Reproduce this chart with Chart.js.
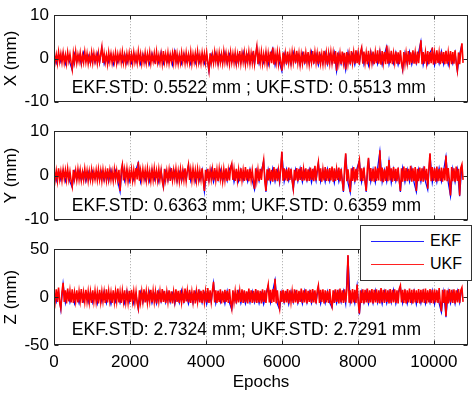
<!DOCTYPE html>
<html><head><meta charset="utf-8">
<script src="https://cdn.jsdelivr.net/npm/chart.js@4.4.0/dist/chart.umd.min.js"></script>
<style>
html,body{margin:0;padding:0;background:#fff;}
#wrap{position:relative;width:474px;height:393px;overflow:hidden;font-family:"Liberation Sans",Arial,sans-serif;}
canvas{position:absolute;left:0;}
#legend{position:absolute;left:360px;top:225px;width:110px;height:54px;border:1px solid #333;background:#fff;z-index:5;}
.li{position:absolute;left:0;width:110px;height:20px;}
.li .ln{position:absolute;left:10px;width:53px;top:10px;height:0;border-top:1px solid;}
.li .tx{position:absolute;left:69px;top:0;font-size:16px;line-height:20px;color:#000;}
</style></head><body>
<div id="wrap">
<canvas id="c1" width="474" height="117" style="top:0;width:474px;height:117px"></canvas>
<canvas id="c2" width="474" height="119" style="top:116px;width:474px;height:119px"></canvas>
<canvas id="c3" width="474" height="159" style="top:234px;width:474px;height:159px"></canvas>
<div id="legend">
  <div class="li" style="top:5px"><span class="ln" style="border-color:#2020ff"></span><span class="tx">EKF</span></div>
  <div class="li" style="top:28px"><span class="ln" style="border-color:#ff2020"></span><span class="tx">UKF</span></div>
</div>
</div>
<script>
// ---- data ----
const ukfStep = 30;            // epochs between plotted UKF samples
const ekfStep = 60;            // epochs between plotted EKF samples
const xMax = 10900;
const xTicks = [0, 2000, 4000, 6000, 8000, 10000];
const yTicksXY = [-10, 0, 10];
const yTicksZ = [-50, 0, 50];
const seriesNames = ['EKF', 'UKF'];

const xUKF = [
 1.2,-0.8,0.9,-1.1,1.5,-0.7,1.1,-0.9,1.3,-1.0,0.8,-1.2,1.4,-0.6,1.0,-0.9,-2.5,1.2,-0.8,1.6,
 -1.0,0.9,-0.7,1.3,-1.1,0.8,-0.9,1.5,-0.8,1.1,-1.2,0.7,-0.9,1.4,-1.0,1.2,-0.7,0.9,-1.1,1.3,
 -0.8,1.0,2.7,-1.0,1.2,-0.9,0.8,-1.3,1.4,-0.7,1.1,-1.0,0.9,-0.8,1.3,-1.1,1.0,-0.6,1.2,-0.9,
 1.5,-1.0,0.8,-1.2,1.1,-0.7,1.3,-0.9,1.0,-1.1,1.4,-0.8,0.9,-1.0,1.6,-0.7,1.1,-1.2,0.8,-0.9,
 1.3,-1.0,1.0,-0.8,1.4,-1.1,0.9,-0.7,1.2,-1.3,1.5,-0.9,0.8,-1.0,1.1,-1.2,1.7,-0.8,1.0,-0.9,
 1.3,-1.1,0.9,-0.7,1.2,-1.0,2.0,-0.9,1.1,-1.2,0.8,-1.0,1.4,-0.8,1.0,-1.1,1.3,-0.9,0.9,-1.0,
 1.5,-1.2,1.0,-0.8,1.2,-1.0,1.6,-0.9,0.9,-1.1,1.3,-0.8,1.1,-1.0,1.4,-0.9,-2.8,1.2,-1.1,0.9,
 -1.0,1.5,-0.8,1.1,-1.2,1.3,-0.9,1.0,-1.1,1.6,-0.8,1.2,-1.0,0.9,-1.3,1.4,-0.9,1.1,-1.0,1.3,
 -1.2,1.0,-0.9,1.7,-1.1,1.2,-0.8,1.4,-1.3,1.0,-0.9,1.5,-1.1,1.2,-1.0,1.8,-1.2,1.1,2.8,-1.3,
 1.3,-1.0,1.5,-1.2,1.0,-0.9,1.4,-1.3,1.2,-1.0,1.6,-1.1,2.5,-1.4,1.1,-1.0,1.5,-1.2,1.3,-0.9,
 -2.8,1.4,-1.1,1.2,-1.3,1.6,-1.0,1.1,-1.2,1.5,-0.9,1.3,-1.1,1.8,-1.0,1.2,-1.4,1.0,-1.1,1.6,
 -1.2,1.3,-1.0,1.5,-1.3,1.1,-0.9,1.7,-1.2,1.4,-1.0,1.2,-1.3,1.6,-1.1,1.0,-1.2,1.8,-1.0,1.3,
 -1.4,1.2,-1.1,1.5,-1.0,1.3,-1.2,1.7,-2.8,1.4,-1.1,1.2,-1.3,1.6,-1.0,1.3,-2.5,1.5,-1.2,1.1,
 -1.3,1.7,-1.0,1.4,-1.2,1.9,-1.1,1.3,-1.4,1.5,2.5,-1.2,1.6,-1.0,1.3,-1.3,1.8,-1.1,1.2,-1.0,
 1.6,-1.3,1.4,-1.1,1.9,-1.2,1.3,-1.4,1.7,-1.0,1.5,-1.3,3.0,-1.2,1.4,-1.1,1.8,-1.3,1.2,-1.0,
 1.6,-1.2,1.4,-1.3,1.9,-1.1,-2.5,1.5,-1.2,1.3,-1.0,1.7,-1.4,1.4,-1.1,1.9,-1.2,1.3,-1.3,1.6,
 -1.1,1.8,4.2,-1.3,1.5,-1.2,1.4,-1.0,1.7,-1.3,1.5,-1.1,2.5,-1.4,1.3,-1.2,1.9,-1.0,1.4,-1.3,
 1.6,-1.1,1.5,-1.3,1.8,-1.2,1.4,-1.0,1.7,-1.3,1.5,-1.2,1.9,-1.1,-2.8,1.4,-1.3,1.6,3.5,-1.0
];
const xEKF = [
 0.6,-1.1,1.0,-0.8,1.3,-1.3,0.5,-1.0,-2.7,1.1,-0.9,0.8,-1.4,1.4,-0.7,0.7,-1.2,0.9,-1.0,1.2,
 -1.1,2.5,-1.3,0.6,-0.9,1.0,-1.5,0.4,-1.0,0.8,-0.8,1.1,-1.2,0.5,-1.1,1.3,-0.9,0.7,-1.3,1.0,
 -1.0,0.4,-1.4,1.2,-0.8,0.8,-1.1,1.5,-1.2,0.6,-0.9,0.9,-1.5,1.8,-1.0,0.7,-1.2,1.1,-0.8,0.8,
 -1.3,0.5,-1.1,1.3,-1.0,1.0,-1.2,0.6,-3.0,0.9,-0.9,1.2,-1.4,0.7,-1.0,1.4,-1.2,1.0,-0.9,0.8,
 -1.5,0.7,-1.0,1.5,-1.3,0.8,-1.1,1.1,-1.4,2.6,-1.2,0.9,-1.0,1.3,-1.5,0.7,2.3,-1.6,1.0,-1.1,
 -3.0,1.1,-1.2,0.6,-1.4,1.4,-0.9,0.9,-1.5,1.2,-1.1,0.8,-1.3,1.6,-1.0,1.0,-1.6,0.7,-1.2,1.3,
 -1.4,0.9,-1.1,1.4,-3.0,1.1,-1.3,0.8,-2.7,1.5,-1.2,1.0,-1.5,1.3,-1.1,2.3,-1.4,0.9,-1.6,1.6,
 -1.2,1.1,-1.3,1.7,-1.5,1.0,2.8,-1.4,1.2,-1.2,1.4,-1.5,0.9,-2.7,1.3,-1.3,1.6,-1.4,1.1,-1.2,
 1.5,4.0,-1.5,1.0,-1.3,1.4,2.3,-1.6,1.1,-1.2,1.7,-1.4,1.2,-1.5,0.9,-1.2,1.4,-3.0,1.0,3.3
];
const yUKF = [
 1.4,-0.9,1.1,-1.2,1.6,-0.8,1.0,-1.1,1.3,-0.7,1.2,-1.0,1.5,-0.9,0.9,-1.2,-2.5,1.3,-0.8,1.1,
 -1.0,1.4,-0.9,1.2,-1.1,0.8,-1.0,1.5,-0.7,1.1,-1.2,1.0,-0.9,1.3,-1.1,0.9,-0.8,1.2,-1.0,1.4,
 -0.9,1.1,-1.2,1.3,-0.8,1.0,-1.1,1.6,-0.9,1.2,-1.0,0.9,-1.2,1.4,-0.8,1.1,-1.0,1.3,-3.5,1.2,
 2.5,-1.1,1.3,-0.9,1.5,-1.2,1.0,-0.8,1.4,-1.1,1.2,-1.0,1.7,-0.9,3.1,-1.2,1.1,-1.0,1.4,-0.8,
 1.2,-1.1,1.5,-0.9,1.0,-1.2,1.3,-1.0,1.6,-0.8,1.1,-1.1,1.4,-0.9,1.2,-1.3,-2.5,1.5,-1.0,1.1,
 -0.9,1.3,-1.2,1.7,-1.0,1.2,-0.8,1.5,-1.1,1.0,-1.3,1.4,-0.9,1.2,-1.0,1.6,-1.2,1.1,2.5,-1.0,
 1.3,-1.1,1.5,-0.9,1.2,-1.2,1.4,-1.0,1.1,-0.9,1.6,-1.1,-3.5,1.3,-1.2,1.5,-1.0,1.2,-0.9,1.4,
 -1.1,1.7,-1.0,1.3,-1.2,1.5,-0.9,1.1,-1.3,1.4,-1.0,1.6,-1.2,1.2,-1.1,1.8,2.7,-1.0,1.4,-1.2,
 1.5,-1.1,1.3,-1.3,1.6,-1.0,1.2,-1.2,1.9,-1.1,1.4,-1.3,1.5,-1.0,1.2,-1.2,-3.0,1.6,-1.1,1.3,
 -1.2,1.5,-1.0,1.8,3.5,-1.3,-3.5,1.4,-1.1,1.6,-1.2,1.3,-1.4,1.9,-1.1,1.5,-1.3,1.2,-1.0,1.7,
 5.4,-1.2,1.6,-1.1,1.4,-1.3,1.8,-1.0,1.5,-1.2,-3.0,1.3,-1.1,1.7,-1.3,1.5,-1.0,1.9,-1.2,1.4,
 -1.1,1.6,-1.3,1.4,-1.2,1.8,-1.0,1.5,-1.3,2.2,-1.1,1.4,3.0,-1.2,1.6,-1.4,1.3,-1.1,1.9,-1.2,
 1.5,-1.3,1.7,-1.1,2.0,-1.4,1.6,-1.2,1.4,-1.0,1.8,-1.3,1.5,-1.2,-3.5,1.7,5.0,-1.3,1.4,-1.1,
 -3.7,1.6,-1.2,1.9,-1.4,1.5,-1.1,2.2,3.5,-1.3,1.6,-1.2,1.8,-1.4,-3.5,1.5,4.0,-1.2,1.7,-1.3,
 1.5,-1.4,2.0,-1.2,1.6,-1.1,5.7,-1.3,1.8,-1.5,1.4,-1.2,2.1,-1.3,3.5,-1.1,1.6,-1.4,1.9,-1.2,
 1.5,-1.3,1.8,-1.1,-3.5,1.6,-1.4,2.0,-1.2,1.7,-1.3,1.5,-1.1,2.2,-1.4,1.6,-1.2,1.9,-3.5,1.5,
 -1.3,1.8,-1.2,1.6,-1.4,2.1,-1.1,1.5,-3.0,1.7,5.0,-1.3,1.9,-1.2,1.6,-1.4,2.0,-1.3,1.5,-1.2,
 1.8,-1.4,1.6,-1.1,4.5,-1.3,1.7,-1.2,-4.5,1.9,-1.3,1.6,-1.4,2.0,-1.2,1.5,-4.5,1.7,2.5,-1.0
];
const yEKF = [
 1.3,-1.2,1.0,-1.0,1.2,-1.3,0.7,-1.4,-2.7,0.9,-0.9,1.1,-1.2,0.6,-1.4,0.8,-1.1,1.0,-0.8,0.7,
 -1.0,0.9,-1.2,0.5,-1.4,1.3,-1.1,1.1,-1.3,-3.7,2.3,-1.2,1.2,-1.4,0.7,-1.0,1.4,2.9,-1.5,0.8,
 -1.1,1.0,-1.3,1.3,-1.0,0.8,-1.5,1.2,-2.7,0.9,-1.2,1.4,-1.1,1.0,-1.4,0.8,-1.3,1.1,-1.0,2.3,
 -1.2,1.2,-1.4,0.9,-1.1,1.3,-3.7,1.0,-1.2,1.4,-1.5,0.8,-1.1,1.2,-1.4,0.9,-1.2,1.5,2.5,-1.5,
 1.0,-1.3,1.3,-1.1,1.1,-1.4,1.4,-1.2,-3.2,1.2,-1.3,1.0,3.3,-3.7,1.3,-1.5,1.6,-1.4,1.2,-1.7,
 5.2,-1.4,1.4,-1.2,1.1,-3.2,1.3,-1.3,1.6,-1.5,1.0,-1.2,1.4,-1.6,1.1,-1.3,2.8,-1.4,1.3,-1.5,
 1.5,-1.3,1.2,-1.7,1.6,-1.4,1.1,-3.7,4.8,-1.6,-3.9,1.4,-1.4,1.7,3.3,-1.5,1.3,-3.7,3.8,-1.4,
 1.4,-1.6,1.6,5.5,-1.5,1.3,-1.4,3.3,-1.7,1.5,-1.3,1.2,-3.7,1.7,-1.5,1.4,-1.4,1.6,-1.6,-3.7,
 1.3,-1.5,1.5,-1.4,-3.2,4.8,-1.6,1.4,-1.5,1.7,-1.4,1.3,4.3,-1.6,-4.7,1.5,-1.5,1.4,-4.7,2.3
];
const zUKF = [
 6.0,-4.5,8.0,-5.0,10.0,-6.0,-12.0,5.5,15.0,-5.0,7.0,-6.5,9.0,-4.5,6.5,-5.5,8.0,-6.0,5.0,-4.5,
 7.0,-5.5,6.0,-4.0,8.5,-6.0,5.0,-5.0,7.5,-4.5,6.0,-5.5,5.5,-6.0,7.0,-4.5,6.5,-5.0,5.0,-6.5,
 7.5,-5.0,6.0,-4.5,5.5,-6.0,8.0,-5.5,6.5,-4.0,5.0,-6.0,7.0,-5.0,6.0,-4.5,9.0,-5.5,5.5,-6.0,
 6.5,-4.5,7.0,-5.5,5.0,-6.0,6.5,-5.0,7.5,-4.5,6.0,-5.5,5.5,-6.5,-12.0,7.0,-5.0,6.0,-4.5,8.0,
 -5.5,6.0,-6.0,5.0,-4.5,7.5,-5.5,6.5,-5.0,5.5,-6.5,7.0,-4.5,6.0,-5.5,8.5,-5.0,6.5,-6.0,5.5,
 -5.0,7.0,-5.5,6.0,-6.5,5.5,-4.5,8.0,-5.0,6.5,-6.0,7.0,-5.5,5.0,-6.0,9.0,-4.5,6.5,-5.5,7.5,
 -6.0,5.5,-5.0,7.0,-6.5,6.0,-4.5,8.0,-5.5,6.5,-6.0,7.5,-5.0,6.0,-5.5,9.5,-6.0,7.0,-5.0,6.5,
 16.0,-5.5,7.0,-6.0,6.5,-5.0,8.0,-6.5,6.0,-5.5,7.5,-5.0,6.5,-6.0,8.5,-5.5,-12.0,7.0,-5.0,6.0,
 -6.5,7.5,-5.5,6.5,-5.0,8.0,-6.0,7.0,-5.5,6.0,-6.5,9.0,-5.0,7.0,-6.0,6.5,-5.5,8.5,-6.0,7.0,
 -5.5,6.5,-6.5,8.0,-5.0,7.0,-6.0,6.5,13.0,-5.5,7.5,-6.0,8.0,-5.0,19.0,-6.5,7.0,-5.5,-12.0,6.5,
 -5.0,7.5,-6.0,6.5,-5.5,8.5,-6.5,7.0,-5.0,6.0,-6.0,8.0,-5.5,7.5,-6.5,6.5,-5.0,9.0,-6.0,7.0,
 -5.5,8.0,-6.5,6.5,-5.0,7.5,-6.0,8.5,-5.5,7.0,-6.5,6.5,12.0,-6.0,7.5,-5.0,8.0,-6.5,7.0,-5.5,
 6.5,-6.0,8.5,-5.5,-10.0,7.0,-6.0,8.0,-5.0,7.5,-6.5,9.0,-5.5,7.0,-6.0,8.0,-5.5,7.5,44.0,-6.0,
 7.0,-6.5,8.5,-5.5,7.5,-6.0,13.0,-5.5,-17.0,7.0,-6.0,8.0,-6.5,7.5,-5.5,9.0,-6.0,7.0,-5.5,8.5,
 -6.5,7.5,-5.5,8.0,-6.0,7.0,-6.5,9.5,-5.5,7.5,-6.0,8.0,-5.0,7.0,-6.5,8.5,-6.0,7.5,-5.5,8.0,
 -6.0,7.0,-6.5,8.5,12.0,-5.5,7.5,-6.0,8.0,-6.5,7.0,-5.5,9.0,-6.0,7.5,-6.5,8.0,-5.5,7.0,-6.0,
 8.5,-6.5,7.5,-5.5,8.0,-6.0,9.0,-6.5,7.0,-5.5,8.5,-6.0,7.5,-6.5,8.0,-5.5,7.0,-6.0,9.5,-6.5,
 -15.0,7.5,-6.0,8.0,-20.0,7.0,-6.5,8.5,-5.5,7.5,-6.0,8.0,-6.5,7.0,-5.5,8.5,-6.0,7.0,10.0,-5.0
];
const zEKF = [
 4.0,-5.0,5.5,-13.0,14.0,-6.0,6.0,-5.5,4.5,-7.0,3.0,-6.5,5.0,-4.5,4.0,-5.5,5.5,-6.0,3.5,-7.0,
 4.5,-5.0,6.0,-6.5,3.5,-7.5,4.0,-5.0,5.0,-6.0,3.0,-6.5,6.5,-5.5,4.0,-7.0,3.5,-13.0,5.0,-6.0,
 4.0,-5.5,5.5,-6.5,3.0,-7.0,6.0,-5.0,4.5,-6.0,5.0,-5.5,4.0,-7.5,3.5,-6.0,7.0,-5.0,4.5,-7.0,
 3.5,-6.5,5.0,-5.0,6.0,-6.0,4.0,-7.5,3.5,-5.5,15.0,-6.5,5.0,-5.5,4.5,-7.0,6.5,-6.0,-13.0,4.0,
 -5.5,5.5,-6.5,4.0,-7.0,3.5,-6.0,6.0,-5.5,5.0,-6.5,4.0,-7.5,3.5,12.0,-6.0,6.5,18.0,-7.0,-13.0,
 5.0,-6.0,4.5,-7.5,6.0,-5.5,5.0,-6.5,4.0,-7.0,6.5,-6.0,5.5,-6.5,4.5,-5.5,11.0,-7.0,4.0,-6.5,
 6.0,-6.0,-11.0,5.0,-6.5,5.5,-5.5,6.5,-7.0,43.0,-6.0,5.0,-6.5,12.0,-18.0,5.5,-6.0,6.0,-7.0,4.5,
 -6.5,7.0,-6.0,5.0,-7.5,6.0,-6.5,5.5,-6.0,7.5,-7.0,4.5,11.0,-6.5,6.0,-7.0,5.0,-6.0,6.5,-7.5,
 5.0,-6.5,6.0,-7.0,4.5,-6.0,7.0,-7.5,5.5,-6.5,-16.0,5.0,-21.0,6.0,-6.5,5.5,-7.0,6.5,-6.0,9.0
];
const notes = [
  'EKF.STD: 0.5522 mm ; UKF.STD: 0.5513 mm',
  'EKF.STD: 0.6363 mm; UKF.STD: 0.6359 mm',
  'EKF.STD: 2.7324 mm; UKF.STD: 2.7291 mm'
];

// ---- rendering ----
const FAMILY = '"Liberation Sans", Arial, Helvetica, sans-serif';

const deco = {
  id: 'panelDeco',
  beforeDatasetsDraw(chart) {
    const {ctx, chartArea: a, scales: {x}} = chart;
    ctx.save();
    ctx.strokeStyle = 'rgba(0,0,0,0.35)';
    ctx.lineWidth = 1;
    ctx.setLineDash([1, 2]);
    xTicks.forEach(v => {
      const px = Math.round(x.getPixelForValue(v)) + 0.5;
      if (px > a.left + 2 && px < a.right - 2) {
        ctx.beginPath(); ctx.moveTo(px, a.top); ctx.lineTo(px, a.bottom); ctx.stroke();
      }
    });
    ctx.restore();
  },
  afterDatasetsDraw(chart, args, opts) {
    const {ctx, chartArea: a, scales: {x, y}} = chart;
    ctx.save();
    ctx.strokeStyle = '#262626';
    ctx.lineWidth = 1;
    ctx.setLineDash([]);
    const L = Math.round(a.left) + 0.5, R = Math.round(a.right) - 0.5;
    const T = Math.round(a.top) + 0.5, B = Math.round(a.bottom) - 0.5;
    ctx.strokeRect(L, T, R - L, B - T);
    const tl = 4;
    ctx.beginPath();
    xTicks.forEach(v => {
      const px = Math.round(x.getPixelForValue(v)) + 0.5;
      ctx.moveTo(px, B); ctx.lineTo(px, B - tl);
      ctx.moveTo(px, T); ctx.lineTo(px, T + tl);
    });
    opts.yTicks.forEach(v => {
      const py = Math.round(y.getPixelForValue(v)) + 0.5;
      ctx.moveTo(L, py); ctx.lineTo(L + tl, py);
      ctx.moveTo(R, py); ctx.lineTo(R - tl, py);
    });
    ctx.stroke();
    ctx.fillStyle = '#000';
    ctx.font = '17.5px ' + FAMILY;
    ctx.textAlign = 'left';
    ctx.textBaseline = 'middle';
    ctx.fillText(opts.note, x.getPixelForValue(opts.noteX), y.getPixelForValue(opts.noteY));
    ctx.restore();
  }
};

function makePanel(id, ukf, ekf, yTicks, yTitle, note, noteX, noteY, bottom) {
  const toXY = (arr, step) => arr.map((v, i) => ({x: i * step, y: v}));
  return new Chart(document.getElementById(id), {
    type: 'line',
    data: {
      datasets: [
        {label: seriesNames[1], data: toXY(ukf, ukfStep), borderColor: '#ff0000', borderWidth: 1.6, pointRadius: 0, tension: 0, fill: false},
        {label: seriesNames[0], data: toXY(ekf, ekfStep), borderColor: '#0000ff', borderWidth: 1.2, pointRadius: 0, tension: 0, fill: false}
      ]
    },
    options: {
      responsive: false, animation: false, events: [],
      layout: {padding: {top: 9, right: 6, left: 0, bottom: bottom ? 0 : 9}},
      plugins: {
        legend: {display: false}, tooltip: {enabled: false},
        panelDeco: {yTicks, note, noteX, noteY}
      },
      scales: {
        x: {
          type: 'linear', min: 0, max: xMax, display: bottom,
          afterBuildTicks: s => { s.ticks = xTicks.map(v => ({value: v})); },
          afterFit: s => { s.height = bottom ? 48 : 0; },
          grid: {display: false, drawTicks: false, tickLength: 0},
          border: {display: false},
          ticks: {padding: 7, color: '#000', font: {size: 17, family: FAMILY}, maxRotation: 0, autoSkip: false, callback: v => String(v)},
          title: {display: true, text: 'Epochs', color: '#000', font: {size: 17, family: FAMILY}, padding: {top: 0, bottom: 0}}
        },
        y: {
          type: 'linear', min: yTicks[0], max: yTicks[yTicks.length - 1],
          afterBuildTicks: s => { s.ticks = yTicks.map(v => ({value: v})); },
          afterFit: s => { s.width = 54; },
          grid: {display: false, drawTicks: false, tickLength: 0},
          border: {display: false},
          ticks: {padding: 5, color: '#000', font: {size: 17, family: FAMILY}, callback: v => String(v)},
          title: {display: true, text: yTitle, color: '#000', font: {size: 17, family: FAMILY}, padding: {top: 1, bottom: 0}}
        }
      }
    },
    plugins: [deco]
  });
}

makePanel('c1', xUKF, xEKF, yTicksXY, 'X (mm)', notes[0], 470, -6.9, false);
makePanel('c2', yUKF, yEKF, yTicksXY, 'Y (mm)', notes[1], 470, -6.9, false);
makePanel('c3', zUKF, zEKF, yTicksZ, 'Z (mm)', notes[2], 470, -35, true);
</script>
</body></html>
